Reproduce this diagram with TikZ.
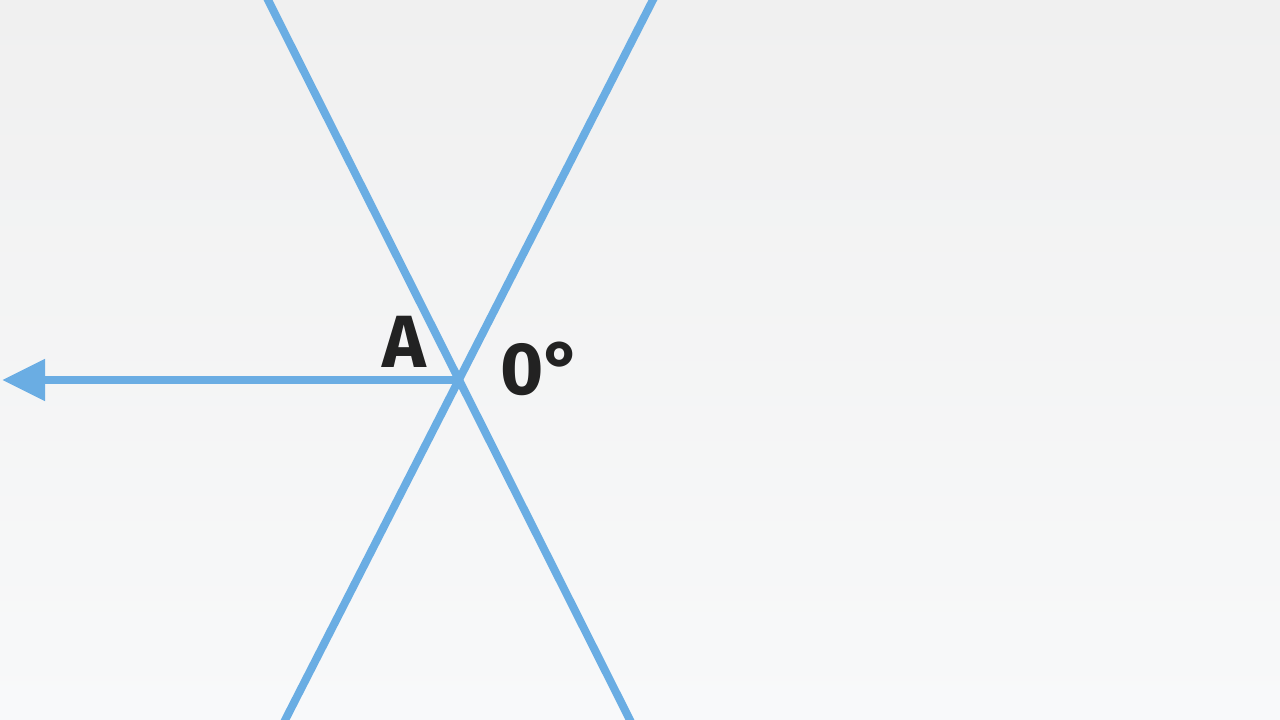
\documentclass[tikz,border=0pt]{standalone}
\usepackage{fontspec}
\setmainfont{Fira Sans}
\usetikzlibrary{arrows.meta}
\definecolor{bgtop}{HTML}{F0F0F0}
\definecolor{bgbot}{HTML}{F8F9FA}
\definecolor{ray}{HTML}{6AADE3}
\definecolor{ink}{HTML}{222222}
\tikzset{
  rayline/.style={draw=ray, line width=8pt},
  lbl/.style={text=ink, font=\fontsize{74}{74}\selectfont\bfseries, inner sep=0pt}
}
\begin{document}
\begin{tikzpicture}[x=1pt,y=-1pt]
  \shade[top color=bgtop, bottom color=bgbot] (0,0) rectangle (1280,720);
  \useasboundingbox (0,0) rectangle (1280,720);
  \coordinate (O) at (459,380);
  \coordinate (T1) at (263,-10);
  \coordinate (B1) at (635,730);
  \coordinate (T2) at (658,-10);
  \coordinate (B2) at (280,730);
  \coordinate (L) at (2,380);
  \begin{scope}
    \clip (0,0) rectangle (1280,720);
    \draw[rayline] (T1) -- (B1);
    \draw[rayline] (T2) -- (B2);
  \end{scope}
  \draw[rayline, -{Triangle[length=43pt,width=40pt]}] (O) -- (L);
  \node[lbl] (A) at (404,342) {A};
  \node[lbl] (deg) at (541,369) {0°};
\end{tikzpicture}
\end{document}
